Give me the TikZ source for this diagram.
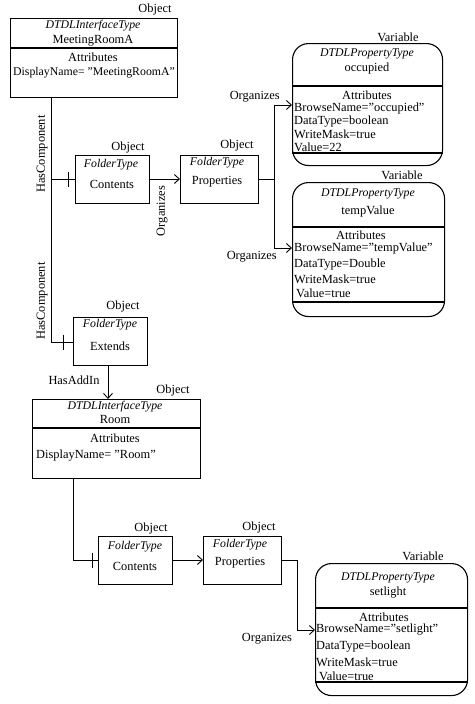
\documentclass[tikz,border=0pt]{standalone}
\usepackage{fontspec}
\setmainfont{Liberation Serif}
\usetikzlibrary{arrows.meta,calc}
\newcommand\myfs{\fontsize{12.4}{14}\selectfont}
\newcommand\myfi{\fontsize{11.8}{14}\selectfont\itshape}
\tikzset{
  box/.style={draw, line width=1.1pt, inner sep=0},
  vbox/.style={box, rounded corners=16pt},
  lbl/.style={inner sep=0, font=\myfs},
  ilbl/.style={inner sep=0, font=\myfi},
  conn/.style={line width=0.9pt},
  arr/.style={conn, -{Straight Barb[length=5pt,width=9pt]}},
  divl/.style={line width=1.1pt},
}
\begin{document}
\begin{tikzpicture}[x=1pt,y=-1pt]
\useasboundingbox (0,0) rectangle (474,704);
% ---------- MeetingRoomA
\node[box, anchor=north west, minimum width=167, minimum height=79] (mra) at (10,18) {};
\draw[divl] (mra.west |- 0,48) -- (mra.east |- 0,48);
\node[lbl] (mraO) at (155,10) {Object};
\node[ilbl] (mraT) at (93,26) {DTDLInterfaceType};
\node[lbl] (mraN) at (93,41) {MeetingRoomA};
\node[lbl] (mraA) at (93,57) {Attributes};
\node[lbl, font=\fontsize{11.8}{14}\selectfont] (mraD) at (94,73) {DisplayName= ”MeetingRoomA”};
% ---------- Contents 1
\node[box, anchor=north west, minimum width=74, minimum height=48] (c1) at (75,155) {};
\node[lbl] (c1O) at (128,148) {Object};
\node[ilbl] (c1T) at (111,165) {FolderType};
\node[lbl] (c1N) at (112,184) {Contents};
% ---------- Properties 1
\node[box, anchor=north west, minimum width=78, minimum height=48] (p1) at (180,155) {};
\node[lbl] (p1O) at (237,146) {Object};
\node[ilbl] (p1T) at (217,163) {FolderType};
\node[lbl] (p1N) at (217,182) {Properties};
% ---------- occupied
\node[vbox, anchor=north west, minimum width=150, minimum height=122] (occ) at (292,43) {};
\draw[divl] (occ.west |- 0,86) -- (occ.east |- 0,86);
\draw[divl] (occ.west |- 0,153) -- (occ.east |- 0,153);
\node[lbl] (occV) at (398,37) {Variable};
\node[ilbl] (occT) at (367,54) {DTDLPropertyType};
\node[lbl] (occN) at (367,69) {occupied};
\node[lbl] (occA) at (367,95) {Attributes};
\node[lbl, anchor=west] (occ1) at (294,109) {BrowseName=”occupied”};
\node[lbl, anchor=west] (occ2) at (294,122) {DataType=boolean};
\node[lbl, anchor=west] (occ3) at (294,134) {WriteMask=true};
\node[lbl, anchor=west] (occ4) at (294,147) {Value=22};
% ---------- tempValue
\node[vbox, anchor=north west, minimum width=152, minimum height=134] (tv) at (292,182) {};
\draw[divl] (tv.west |- 0,227) -- (tv.east |- 0,227);
\draw[divl] (tv.west |- 0,302) -- (tv.east |- 0,302);
\node[lbl] (tvV) at (402,175) {Variable};
\node[ilbl] (tvT) at (368,194) {DTDLPropertyType};
\node[lbl] (tvN) at (368,212) {tempValue};
\node[lbl] (tvA) at (361,235) {Attributes};
\node[lbl, anchor=west] (tv1) at (294,249) {BrowseName=”tempValue”};
\node[lbl, anchor=west] (tv2) at (294,265) {DataType=Double};
\node[lbl, anchor=west] (tv3) at (294,279) {WriteMask=true};
\node[lbl, anchor=west] (tv4) at (296,293) {Value=true};
% ---------- Extends
\node[box, anchor=north west, minimum width=74, minimum height=48] (ext) at (73,317) {};
\node[lbl] (extO) at (123,307) {Object};
\node[ilbl] (extT) at (110,325) {FolderType};
\node[lbl] (extN) at (110,346) {Extends};
% ---------- Room
\node[box, anchor=north west, minimum width=168, minimum height=79] (room) at (32,399) {};
\draw[divl] (room.west |- 0,428) -- (room.east |- 0,428);
\node[lbl] (roomO) at (173,391) {Object};
\node[ilbl] (roomT) at (115,407) {DTDLInterfaceType};
\node[lbl] (roomN) at (115,419) {Room};
\node[lbl] (roomA) at (115,438) {Attributes};
\node[lbl, anchor=west] (roomD) at (36,456) {DisplayName= ”Room”};
% ---------- Contents 2
\node[box, anchor=north west, minimum width=74, minimum height=48] (c2) at (98,536) {};
\node[lbl] (c2O) at (151,529) {Object};
\node[ilbl] (c2T) at (135,547) {FolderType};
\node[lbl] (c2N) at (135,566) {Contents};
% ---------- Properties 2
\node[box, anchor=north west, minimum width=78, minimum height=48] (p2) at (203,536) {};
\node[lbl] (p2O) at (259,528) {Object};
\node[ilbl] (p2T) at (240,545) {FolderType};
\node[lbl] (p2N) at (240,563) {Properties};
% ---------- setlight
\node[vbox, anchor=north west, minimum width=152, minimum height=132] (sl) at (315,563) {};
\draw[divl] (sl.west |- 0,608) -- (sl.east |- 0,608);
\draw[divl] (sl.west |- 0,682) -- (sl.east |- 0,682);
\node[lbl] (slV) at (423,556) {Variable};
\node[ilbl] (slT) at (388,578) {DTDLPropertyType};
\node[lbl] (slN) at (388,593) {setlight};
\node[lbl] (slA) at (384,617) {Attributes};
\node[lbl, anchor=west] (sl1) at (316,630) {BrowseName=”setlight”};
\node[lbl, anchor=west] (sl2) at (316,647) {DataType=boolean};
\node[lbl, anchor=west] (sl3) at (316,662) {WriteMask=true};
\node[lbl, anchor=west] (sl4) at (319,676) {Value=true};
% ---------- connectors
\coordinate (j1) at (51,179);
\coordinate (j2) at (51,342);
\draw[conn] (mra.south -| j1) -- (j2) -- (ext.west |- j2);
\draw[conn] (j1) -- (c1.west |- j1);
\draw[conn] ($(c1.west |- j1)+(-7,-7.5)$) -- ++(0,15);
\draw[conn] ($(ext.west |- j2)+(-10,-7.5)$) -- ++(0,15);
\node[lbl, rotate=90] (hc1) at (42,154) {HasComponent};
\node[lbl, rotate=90] (hc2) at (42,301) {HasComponent};
\draw[arr] (c1.east |- j1) -- (p1.west |- j1);
\node[lbl, rotate=90] (org1) at (162,211) {Organizes};
\coordinate (b1) at (274,179);
\coordinate (a1) at (0,105);
\coordinate (a2) at (0,248);
\draw[conn] (p1.east |- b1) -- (b1);
\draw[arr] (b1) |- (occ.west |- a1);
\draw[arr] (b1) |- (tv.west |- a2);
\node[lbl, anchor=east] (org2) at (280,97) {Organizes};
\node[lbl, anchor=east] (org3) at (277,257) {Organizes};
\coordinate (h1) at (108,0);
\draw[arr] (ext.south -| h1) -- (room.north -| h1);
\node[lbl] (hai) at (74,380) {HasAddIn};
\coordinate (j3) at (73,560);
\draw[conn] (room.south -| j3) -- (j3) -- (c2.west |- j3);
\draw[conn] ($(c2.west |- j3)+(-6,-7.5)$) -- ++(0,15);
\draw[arr] (c2.east |- j3) -- (p2.west |- j3);
\coordinate (b2) at (297,560);
\coordinate (a3) at (0,630);
\draw[conn] (p2.east |- b2) -- (b2);
\draw[arr] (b2) |- (sl.west |- a3);
\node[lbl] (org4) at (267,639) {Organizes};
\end{tikzpicture}
\end{document}
